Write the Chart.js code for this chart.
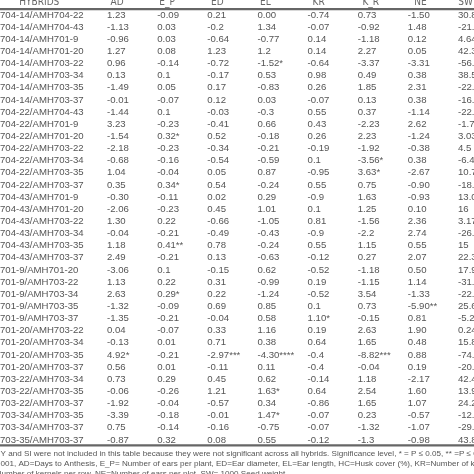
<!DOCTYPE html>
<html>
<head>
<meta charset="utf-8">
<script src="https://cdn.jsdelivr.net/npm/chart.js@4.4.0/dist/chart.umd.min.js"></script>
<style>
  html, body { margin: 0; padding: 0; background: #fff; }
  #wrap { width: 474px; height: 474px; }
</style>
</head>
<body>
<div id="wrap"><canvas id="tablaChart"></canvas></div>
<script>
const headers = ['HYBRIDS', 'AD', 'E_P', 'ED', 'EL', 'KR', 'K_R', 'NE', 'SW'];
const hybrids = [
  'AMH704-14/AMH704-22', 'AMH704-14/AMH704-43', 'AMH704-14/AMH701-9', 'AMH704-14/AMH701-20',
  'AMH704-14/AMH703-22', 'AMH704-14/AMH703-34', 'AMH704-14/AMH703-35', 'AMH704-14/AMH703-37',
  'AMH704-22/AMH704-43', 'AMH704-22/AMH701-9', 'AMH704-22/AMH701-20', 'AMH704-22/AMH703-22',
  'AMH704-22/AMH703-34', 'AMH704-22/AMH703-35', 'AMH704-22/AMH703-37', 'AMH704-43/AMH701-9',
  'AMH704-43/AMH701-20', 'AMH704-43/AMH703-22', 'AMH704-43/AMH703-34', 'AMH704-43/AMH703-35',
  'AMH704-43/AMH703-37', 'AMH701-9/AMH701-20', 'AMH701-9/AMH703-22', 'AMH701-9/AMH703-34',
  'AMH701-9/AMH703-35', 'AMH701-9/AMH703-37', 'AMH701-20/AMH703-22', 'AMH701-20/AMH703-34',
  'AMH701-20/AMH703-35', 'AMH701-20/AMH703-37', 'AMH703-22/AMH703-34', 'AMH703-22/AMH703-35',
  'AMH703-22/AMH703-37', 'AMH703-34/AMH703-35', 'AMH703-34/AMH703-37', 'AMH703-35/AMH703-37'
];
const AD = ['1.23','-1.13','-0.96','1.27','0.96','0.13','-1.49','-0.01','-1.44','3.23','-1.54','-2.18',
  '-0.68','1.04','0.35','-0.30','-2.06','1.30','-0.04','1.18','2.49','-3.06','1.13','2.63','-1.32',
  '-1.35','0.04','-0.13','4.92*','0.56','0.73','-0.06','-1.92','-3.39','0.75','-0.87'];
const E_P = ['-0.09','0.03','0.03','0.08','-0.14','0.1','0.05','-0.07','0.1','-0.23','0.32*','-0.23',
  '-0.16','-0.04','0.34*','-0.11','-0.23','0.22','-0.21','0.41**','-0.21','0.1','0.22','0.29*','-0.09',
  '-0.21','-0.07','0.01','-0.21','0.01','0.29','-0.26','-0.04','-0.18','-0.14','0.32'];
const ED = ['0.21','-0.2','-0.64','1.23','-0.72','-0.17','0.17','0.12','-0.03','-0.41','0.52','-0.34',
  '-0.54','0.05','0.54','0.02','0.45','-0.66','-0.49','0.78','0.13','-0.15','0.31','0.22','0.69',
  '-0.04','0.33','0.71','-2.97***','-0.11','0.45','1.21','-0.57','-0.01','-0.16','0.08'];
const EL = ['0.00','1.34','-0.77','1.2','-1.52*','0.53','-0.83','0.03','-0.3','0.66','-0.18','-0.21',
  '-0.59','0.87','-0.24','0.29','1.01','-1.05','-0.43','-0.24','-0.63','0.62','-0.99','-1.24','0.85',
  '0.58','1.16','0.38','-4.30****','0.11','0.62','1.63*','0.34','1.47*','-0.75','0.55'];
const KR = ['-0.74','-0.07','0.14','0.14','-0.64','0.98','0.26','-0.07','0.55','0.43','0.26','-0.19',
  '0.1','-0.95','0.55','-0.9','0.1','0.81','-0.9','0.55','-0.12','-0.52','0.19','-0.52','0.1',
  '1.10*','0.19','0.64','-0.4','-0.4','-0.14','0.64','-0.86','-0.07','-0.07','-0.12'];
const K_R = ['0.73','-0.92','-1.18','2.27','-3.37','0.49','1.85','0.13','0.37','-2.23','2.23','-1.92',
  '-3.56*','3.63*','0.75','1.63','1.25','-1.56','-2.2','1.15','0.27','-1.18','-1.15','3.54','0.73',
  '-0.15','2.63','1.65','-8.82***','-0.04','1.18','2.54','1.65','0.23','-1.32','-1.3'];
const NE = ['-1.50','1.48','0.12','0.05','-3.31','0.38','2.31','0.38','-1.14','2.62','-1.24','-0.38',
  '0.38','-2.67','-0.90','-0.93','0.10','2.36','2.74','0.55','2.07','0.50','1.14','-1.33','-5.90**',
  '0.81','1.90','0.48','0.88','0.19','-2.17','1.60','1.07','-0.57','-1.07','-0.98'];
const SW = ['30.81','-21.25','4.64*','42.35','-56.73','38.54','-22.01','-16.42','-22.12','-1.76','3.03*','4.5',
  '-6.42','10.71','-18.72','13.06','16','3.17','-26.24','15','22.35','17.96','-31.84','-22.35','25.64',
  '-5.28','0.24*','15.88','-74.72','-20.65','42.44','13.96','24.21','-12.43','-29.43','43.84'];
const footnote = [
  'GY and SI were not included in this table because they were not significant across all hybrids. Significance level, * = P \u2264 0.05, ** =P \u2264 0.01, *** = P \u2264',
  '0.001, AD=Days to Anthesis, E_P= Number of ears per plant, ED=Ear diameter, EL=Ear length, HC=Husk cover (%), KR=Number of kernel rows per ear,',
  'K_R=Number of kernels per row, NE=Number of ears per plot, SW= 1000 Seed weight.'
];

const columns = [hybrids, AD, E_P, ED, EL, KR, K_R, NE, SW];
const colPos = [-1.56, 1, 2, 3, 4, 5, 6, 7, 8];
const headPos = [-0.35, 1.2, 2.2, 3.2, 4.16, 5.22, 6.26, 7.25, 8.15];

const tablePlugin = {
  id: 'tablePlugin',
  afterDraw(chart) {
    const c = chart.ctx;
    const x = chart.scales.x, y = chart.scales.y;
    c.save();
    c.textBaseline = 'middle';
    // header
    c.fillStyle = '#666';
    c.font = '10px "DejaVu Sans Condensed", "Liberation Sans Narrow", sans-serif';
    c.textAlign = 'center';
    headers.forEach((h, i) => c.fillText(h, x.getPixelForValue(headPos[i]), y.getPixelForValue(0)));
    // rules
    c.strokeStyle = '#666';
    c.lineWidth = 2.2;
    [0.52, 36.45].forEach(v => {
      c.beginPath();
      c.moveTo(0, y.getPixelForValue(v));
      c.lineTo(chart.width, y.getPixelForValue(v));
      c.stroke();
    });
    // body
    c.font = '9.6px "Liberation Sans", Arial, sans-serif';
    c.textAlign = 'left';
    c.fillStyle = '#555';
    columns.forEach((col, ci) => {
      col.forEach((val, ri) => {
        c.fillText(val, x.getPixelForValue(colPos[ci]), y.getPixelForValue(ri + 1));
      });
    });
    // footnote
    c.font = '8.1px "Liberation Sans", Arial, sans-serif';
    footnote.forEach((t, i) => {
      c.fillText(t, x.getPixelForValue([-1.25, -1.26, -1.63][i]), y.getPixelForValue(37.15 + i * 0.8));
    });
    c.restore();
  }
};

new Chart(document.getElementById('tablaChart'), {
  type: 'scatter',
  data: { datasets: [{ data: [] }] },
  options: {
    responsive: true,
    maintainAspectRatio: false,
    animation: false,
    layout: { padding: 0 },
    plugins: { legend: { display: false }, tooltip: { enabled: false } },
    scales: {
      x: { type: 'linear', min: -1.134, max: 8.319, display: false },
      y: { type: 'linear', reverse: true, min: -0.2356, max: 38.81, display: false }
    }
  },
  plugins: [tablePlugin]
});
</script>
</body>
</html>
